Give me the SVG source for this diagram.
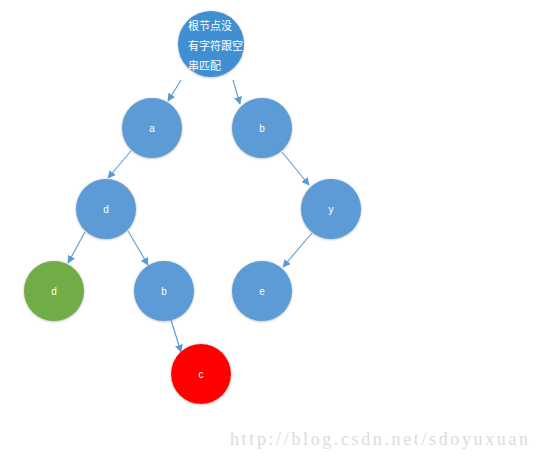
<svg xmlns="http://www.w3.org/2000/svg" width="540" height="459" viewBox="0 0 540 459">
<style>
.n{stroke:none;filter:url(#sh)}
.blue{fill:#5B9BD5}
.lbl{font-family:"Liberation Sans",Arial,sans-serif;font-size:10px;fill:#fff;text-anchor:middle}
.cjk{font-family:"Noto Sans CJK SC","Liberation Sans",sans-serif;font-size:11px;fill:#fff}
.e{stroke:#5B9BD5;stroke-width:1.1;fill:none;marker-end:url(#ah)}
</style>
<defs>
<filter id="sh" x="-20%" y="-20%" width="140%" height="140%">
<feDropShadow dx="0" dy="0.5" stdDeviation="1.3" flood-color="#808080" flood-opacity="0.6"/>
</filter>
<marker id="ah" viewBox="0 0 10 10" refX="9" refY="5" markerWidth="8" markerHeight="8" markerUnits="userSpaceOnUse" orient="auto">
<path d="M0,0 L10,5 L0,10 Z" fill="#5B9BD5"/>
</marker>
</defs>
<rect width="540" height="459" fill="#fff"/>
<g id="connectors">
<line class="e" x1="181" y1="80" x2="168" y2="101"/>
<line class="e" x1="233" y1="80" x2="240" y2="104"/>
<line class="e" x1="131" y1="151" x2="108" y2="178"/>
<line class="e" x1="282" y1="152" x2="309" y2="185"/>
<line class="e" x1="85" y1="232" x2="68" y2="263"/>
<line class="e" x1="128" y1="231" x2="148" y2="265"/>
<line class="e" x1="312" y1="233" x2="283" y2="267"/>
<line class="e" x1="171" y1="320" x2="181" y2="352"/>
</g>
<g id="root">
<circle class="n" cx="211" cy="44" r="33" fill="#418FD3"/>
<text class="cjk" x="188" y="30">根节点没</text>
<text class="cjk" x="188" y="50">有字符跟空</text>
<text class="cjk" x="188" y="70">串匹配</text>
</g>
<g id="node-a"><circle class="n blue" cx="152" cy="128" r="30"/><text class="lbl" x="152" y="132">a</text></g>
<g id="node-b"><circle class="n blue" cx="262" cy="128" r="30"/><text class="lbl" x="262" y="132">b</text></g>
<g id="node-d"><circle class="n blue" cx="106" cy="209" r="30"/><text class="lbl" x="106" y="213">d</text></g>
<g id="node-y"><circle class="n blue" cx="331" cy="209" r="30"/><text class="lbl" x="331" y="213">y</text></g>
<g id="node-d2"><circle class="n" cx="54" cy="291" r="30" fill="#70AD47"/><text class="lbl" x="54" y="295">d</text></g>
<g id="node-b2"><circle class="n blue" cx="164" cy="291" r="30"/><text class="lbl" x="164" y="295">b</text></g>
<g id="node-e"><circle class="n blue" cx="262" cy="291" r="30"/><text class="lbl" x="262" y="295">e</text></g>
<g id="node-c"><circle class="n" cx="201" cy="374" r="30" fill="#FF0000"/><text class="lbl" x="201" y="378">c</text></g>
<text x="230" y="445" font-family="Liberation Serif,serif" font-size="18" fill="#DCDCD7" textLength="298" lengthAdjust="spacing">http://blog.csdn.net/sdoyuxuan</text>
</svg>
